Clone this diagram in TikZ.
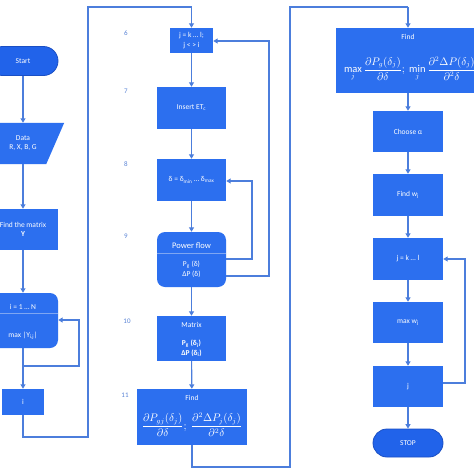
\documentclass[tikz,border=0pt]{standalone}
\usepackage{fontspec}
\setmainfont{Carlito}
\usetikzlibrary{arrows.meta}
\definecolor{boxblue}{HTML}{2C6FEF}
\definecolor{termblue}{HTML}{2163EA}
\definecolor{termedge}{HTML}{1A4FC4}
\definecolor{lineblue}{HTML}{4C7EDC}
\definecolor{divblue}{HTML}{7FA6F2}
\definecolor{numblue}{HTML}{5A84D6}
\begin{document}
\begin{tikzpicture}[x=1pt,y=-1pt,
  box/.style={fill=boxblue, text=white, font=\fontsize{7.5}{9.5}\selectfont, align=center, inner sep=0pt},
  term/.style={fill=termblue, draw=termedge, line width=0.8pt, text=white, font=\fontsize{7.5}{9.5}\selectfont, inner sep=0pt},
  txt/.style={text=white, font=\fontsize{7.5}{9.5}\selectfont, align=center, inner sep=0pt},
  num/.style={text=numblue, font=\fontsize{7}{8}\selectfont, inner sep=0pt},
  conn/.style={draw=lineblue, line width=1.1pt, -{Triangle[width=5pt,length=4.5pt]}},
  wire/.style={draw=lineblue, line width=1.1pt},
  divider/.style={draw=divblue, line width=0.6pt}]
\useasboundingbox (0,0) rectangle (474,474);
\clip (0,0) rectangle (474,474);
\fill[white] (0,0) rectangle (474,474);

% ---------- left column ----------
\node[term, rounded corners=14.5pt, minimum width=70pt, minimum height=29pt] (start) at (23,61) {Start};
\node[inner sep=0pt, minimum width=54pt, minimum height=41pt] (data) at (23,143.5) {};
\fill[boxblue] ([xshift=-27pt]data.north west) -- ([xshift=14pt]data.north east) -- ([xshift=-4pt]data.south east) -- ([xshift=-45pt]data.south west) -- cycle;
\node[txt] (datatext) at (23,143) {Data\\R, X, B, G};
\node[box, minimum width=70pt, minimum height=41pt] (findY) at (23,229.5) {Find the matrix\\\textbf{Y}};
\node[box, rounded corners=8pt, minimum width=70pt, minimum height=55pt] (loopI) at (23,320.5) {};
\draw[divider] (loopI.west |- 0,313) -- (loopI.east |- 0,313);
\node[txt] (loopItop) at (23,307) {i = 1 … N};
\node[txt] (loopIbot) at (23,336) {max |Y\textsubscript{i,j}|};
\node[box, minimum width=42pt, minimum height=26pt] (ibox) at (23,402) {i};

\draw[conn] (start) -- (data);
\draw[conn] (data) -- (findY);
\draw[conn] (findY) -- (loopI);
\draw[conn] (loopI) -- (ibox);
\coordinate (lA) at (23,366);
\draw[conn] (lA) -- (79,366) -- (79,320) -- (loopI.east |- 0,320);
\coordinate (topA) at (191.5,7);
\draw[wire] (ibox.south) -- (23,437) -- (88,437) -- (88,7) -- (topA);

% ---------- middle column ----------
\node[num] (l6) at (126,33) {6};
\node[num] (l7) at (126,91) {7};
\node[num] (l8) at (126,164) {8};
\node[num] (l9) at (126,236) {9};
\node[num] (l10) at (127,321) {10};
\node[num] (l11) at (125,395) {11};

\node[box, minimum width=43pt, minimum height=25pt] (n6) at (191.5,40.5) {j = k … l;\\j < > i};
\node[box, minimum width=69pt, minimum height=42pt] (n7) at (191.5,108) {Insert ET\textsubscript{c}};
\node[box, minimum width=69pt, minimum height=42pt] (n8) at (191.5,180) {δ = δ\textsubscript{min} … δ\textsubscript{max}};
\node[box, rounded corners=8pt, minimum width=69pt, minimum height=55pt] (n9) at (191.5,259.5) {};
\draw[divider] (n9.west |- 0,253) -- (n9.east |- 0,253);
\node[txt, font=\fontsize{8.5}{10}\selectfont] (n9top) at (191.5,245.5) {Power flow};
\node[txt] (n9bot) at (191.5,269.5) {P\textsubscript{g} (δ)\\ΔP (δ)};
\node[box, minimum width=69pt, minimum height=45pt] (n10) at (191.5,338.5) {};
\node[txt] (n10top) at (191.5,325) {Matrix};
\node[txt] (n10bot) at (191.5,348.5) {\textbf{P\textsubscript{g} (δ\textsubscript{i})}\\\textbf{ΔP (δ\textsubscript{i})}};
\node[box, minimum width=110pt, minimum height=56pt] (n11) at (192,417) {};
\node[txt] (n11top) at (192,398) {Find};
\node[txt, font=\fontsize{10.5}{12}\selectfont] (n11f) at (192,425) {$\displaystyle \frac{\partial P_{gj}(\delta_j)}{\partial\delta};\ \frac{\partial^2\Delta P_j(\delta_j)}{\partial^2\delta}$};

\draw[conn] (topA) -- (n6);
\draw[conn] (n6) -- (n7);
\draw[conn] (n7) -- (n8);
\draw[conn] (n8) -- (n9);
\draw[conn] (n9) -- (n10);
\draw[conn] (n10) -- (n11);
\draw[conn] (n9.east |- 0,259) -- (252,259) -- (252,181) -- (n8.east |- 0,181);
\draw[conn] (n9.east |- 0,276) -- (269,276) -- (269,41) -- (n6.east |- 0,41);
\coordinate (topB) at (408,7);
\draw[wire] (n11.south) -- (192,467) -- (290,467) -- (290,7) -- (topB);

% ---------- right column ----------
\node[box, minimum width=144pt, minimum height=65pt] (find) at (408,60.5) {};
\node[txt] (findtop) at (408,37) {Find};
\node[txt, font=\fontsize{10.5}{12}\selectfont] (findf) at (410,69) {$\displaystyle \max_j \frac{\partial P_g(\delta_j)}{\partial\delta};\ \min_j \frac{\partial^2\Delta P(\delta_j)}{\partial^2\delta}$};
\node[box, minimum width=70pt, minimum height=41pt] (choose) at (408,131.5) {Choose α};
\node[box, minimum width=70pt, minimum height=42pt] (findw) at (408,195) {Find w\textsubscript{j}};
\node[box, minimum width=70pt, minimum height=42pt] (jkl) at (408,259) {j = k … l};
\node[box, minimum width=70pt, minimum height=41pt] (maxw) at (408,322.5) {max w\textsubscript{j}};
\node[box, minimum width=70pt, minimum height=41pt] (jbox) at (408,386.5) {j};
\node[term, rounded corners=14pt, minimum width=70pt, minimum height=28pt] (stop) at (408,443) {STOP};

\draw[conn] (topB) -- (find);
\draw[conn] (find) -- (choose);
\draw[conn] (choose) -- (findw);
\draw[conn] (findw) -- (jkl);
\draw[conn] (jkl) -- (maxw);
\draw[conn] (maxw) -- (jbox);
\draw[conn] (jbox) -- (stop);
\draw[conn] (jbox.east |- 0,383) -- (465,383) -- (465,259) -- (jkl.east);
\end{tikzpicture}
\end{document}
